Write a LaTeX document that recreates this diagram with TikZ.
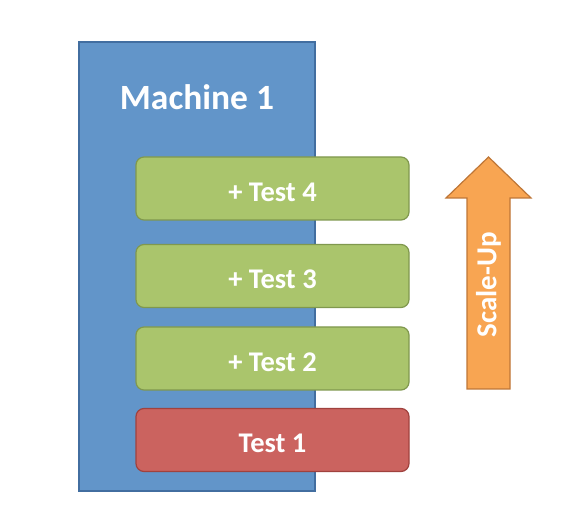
\documentclass[tikz,border=0pt]{standalone}
\usepackage{fontspec}
\setmainfont{Carlito}
\definecolor{machine}{RGB}{98, 149, 201}
\definecolor{machineline}{RGB}{66, 110, 160}
\definecolor{newtest}{RGB}{170, 197, 108}
\definecolor{newtestline}{RGB}{128, 152, 78}
\definecolor{basetest}{RGB}{203, 99, 95}
\definecolor{basetestline}{RGB}{160, 66, 62}
\definecolor{scale}{RGB}{248, 165, 82}
\definecolor{scaleline}{RGB}{190, 118, 55}

\begin{document}
\begin{tikzpicture}[
	x=1pt, y=-1pt,
	font=\bfseries,
	% Styles for the boxes
	machinebox/.style={draw=machineline, line width=1.2pt, fill=machine, minimum width=236pt, minimum height=449pt, inner sep=0pt},
	% text height > depth keeps the text a little below the middle
	testbox/.style={draw=newtestline, line width=1.2pt, fill=newtest, rounded corners=8pt, minimum width=273pt, minimum height=63pt, inner sep=0pt, text height=26pt, text depth=0pt, text=white, font=\fontsize{28.5}{32}\selectfont\bfseries},
	basebox/.style={testbox, draw=basetestline, fill=basetest},
	scalearrow/.style={draw=scaleline, line width=1.2pt, fill=scale},
	% Styles for text
	boxlabel/.style={text=white, font=\fontsize{35.5}{40}\selectfont\bfseries},
	arrowlabel/.style={text=white, font=\fontsize{29}{34}\selectfont\bfseries}
	]
	
	\useasboundingbox (0, 0) rectangle (579, 518);
	
	% ==========================================
	% MACHINE
	% ==========================================
	\node[machinebox] (machine) at (197, 266.5) {};
	\node[boxlabel] (machinelabel) at (197, 97) {Machine 1};
	
	% ==========================================
	% TESTS
	% ==========================================
	\node[testbox] (test4) at (272.5, 188.5) {+ Test 4};
	\node[testbox] (test3) at (272.5, 276) {+ Test 3};
	\node[testbox] (test2) at (272.5, 358.5) {+ Test 2};
	\node[basebox] (test1) at (272.5, 440) {Test 1};
	
	% ==========================================
	% SCALE-UP ARROW
	% ==========================================
	\draw[scalearrow] (467, 389) -- (467, 198) -- (446, 198) -- (488.5, 157)
		-- (531, 198) -- (510, 198) -- (510, 389) -- cycle;
	\node[arrowlabel, rotate=90] (scaleup) at (488.5, 285) {Scale-Up};
	
\end{tikzpicture}
\end{document}
